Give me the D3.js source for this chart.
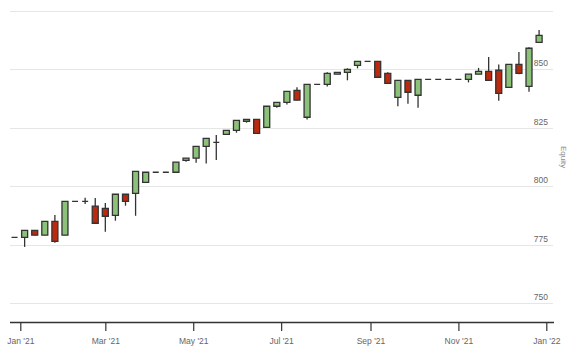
<!DOCTYPE html>
<html>
<head>
<meta charset="utf-8">
<script src="https://cdn.jsdelivr.net/npm/d3@7"></script>
<style>
  body { margin: 0; background: #fff; }
  svg { display: block; font-family: "Liberation Sans", Arial, sans-serif; }
</style>
</head>
<body>
<svg id="chart" width="580" height="360"></svg>
<script>
// weekly candles, week starting Monday
let weeks = ["2020-12-28","2021-01-04","2021-01-11","2021-01-18","2021-01-25","2021-02-01","2021-02-08","2021-02-15","2021-02-22",
  "2021-03-01","2021-03-08","2021-03-15","2021-03-22","2021-03-29","2021-04-05","2021-04-12","2021-04-19","2021-04-26",
  "2021-05-03","2021-05-10","2021-05-17","2021-05-24","2021-05-31","2021-06-07","2021-06-14","2021-06-21","2021-06-28",
  "2021-07-05","2021-07-12","2021-07-19","2021-07-26","2021-08-02","2021-08-09","2021-08-16","2021-08-23","2021-08-30",
  "2021-09-06","2021-09-13","2021-09-20","2021-09-27","2021-10-04","2021-10-11","2021-10-18","2021-10-25","2021-11-01",
  "2021-11-08","2021-11-15","2021-11-22","2021-11-29","2021-12-06","2021-12-13","2021-12-20","2021-12-27"];
let open  = [778.2,778.2,781.2,779.1,785.0,779.1,793.6,793.6,791.5,790.6,787.6,796.6,797.0,801.7,806.0,806.0,806.0,811.1,
  812.0,817.1,818.8,822.2,823.9,827.8,828.6,825.2,834.2,835.9,841.0,829.5,843.6,843.6,847.9,848.7,851.7,853.4,
  853.4,848.3,838.0,845.3,838.9,845.7,845.7,845.7,845.7,845.7,847.9,849.1,849.6,842.3,852.1,842.7,861.5];
let high  = [778.2,781.2,781.2,785.0,787.7,793.6,793.6,795.1,795.0,792.9,796.6,796.6,806.4,806.0,806.0,806.0,810.3,812.0,
  817.1,820.5,821.9,823.9,828.2,828.6,828.6,834.2,835.9,840.6,842.3,843.6,843.6,848.7,848.7,850.4,853.4,853.4,
  853.4,848.7,845.3,845.3,845.7,845.7,845.7,845.7,845.7,847.9,850.6,855.3,852.1,852.1,857.4,859.4,866.8];
let low   = [778.2,774.1,779.1,779.1,775.9,779.1,793.6,792.4,784.2,780.6,785.3,791.7,787.4,801.7,806.0,806.0,806.0,810.5,
  810.1,809.7,811.2,822.2,822.9,827.2,822.6,825.2,833.6,835.0,836.8,828.6,843.6,842.7,847.9,845.3,850.4,853.4,
  846.6,844.0,834.2,835.3,833.6,845.7,845.7,845.7,845.7,844.4,847.9,845.3,836.6,842.3,847.9,840.4,861.5];
let close = [778.2,781.2,779.1,785.0,776.5,793.6,793.6,793.6,784.2,787.2,796.6,793.6,806.4,806.0,806.0,806.0,810.3,812.0,
  817.1,820.5,818.8,823.9,828.2,828.6,822.6,834.2,835.9,840.6,836.8,843.6,843.6,848.3,848.7,850.0,853.4,853.4,
  846.6,844.0,845.3,840.2,845.7,845.7,845.7,845.7,845.7,847.9,849.1,845.3,839.7,852.1,848.3,859.0,864.5];

let yTicks = [750, 775, 800, 825, 850, 875];
let xTicks = ["2021-01-01","2021-03-01","2021-05-01","2021-07-01","2021-09-01","2021-11-01","2022-01-01"];
let xTickLabels = ["Jan '21","Mar '21","May '21","Jul '21","Sep '21","Nov '21","Jan '22"];

let parse = d3.timeParse("%Y-%m-%d");
let data = weeks.map((w, i) => ({date: parse(w), o: open[i], h: high[i], l: low[i], c: close[i]}));

let svg = d3.select("#chart");
let left = 10, right = 553, axisY = 322;

let x = d3.scaleTime()
  .domain([parse("2021-01-01"), parse("2022-01-01")])
  .range([20.3, 546.3]);

let y = d3.scaleLinear()
  .domain([750, 850])
  .range([303.3, 69.3]);

// gridlines
svg.append("g")
  .selectAll("line")
  .data(yTicks)
  .enter().append("line")
  .attr("x1", left).attr("x2", right)
  .attr("y1", d => Math.round(y(d)) + 0.5).attr("y2", d => Math.round(y(d)) + 0.5)
  .attr("stroke", "#e6e6e6").attr("stroke-width", 1);

// y labels, inside the plot on the right, above the gridline
svg.append("g")
  .selectAll("text")
  .data(yTicks.filter(d => d < 875))
  .enter().append("text")
  .attr("x", 548)
  .attr("y", d => y(d) - 3)
  .attr("text-anchor", "end")
  .attr("font-size", 8.5)
  .attr("fill", "#666")
  .text(d => d);

svg.append("text")
  .attr("transform", "translate(561,157) rotate(90)")
  .attr("text-anchor", "middle")
  .attr("font-size", 8)
  .attr("fill", "#888")
  .text("Equity");

// x axis
let xAxis = d3.axisBottom(x)
  .tickValues(xTicks.map(parse))
  .tickFormat((d, i) => xTickLabels[i])
  .tickSize(9)
  .tickPadding(7)
  .tickSizeOuter(0);

let ax = svg.append("g")
  .attr("transform", "translate(0," + axisY + ")")
  .call(xAxis);
ax.select(".domain").attr("d", "M" + left + ",0.5H" + (right + 1)).attr("stroke", "#333").attr("stroke-width", 1.5);
ax.selectAll(".tick line").attr("stroke", "#333").attr("stroke-width", 1.2);
ax.selectAll(".tick text")
  .attr("font-size", 8.5)
  .attr("fill", "#666")
  .attr("font-family", "'Liberation Sans', Arial, sans-serif");

// candles
let bw = 6;
let candles = svg.append("g")
  .selectAll("g")
  .data(data)
  .enter().append("g")
  .attr("transform", d => "translate(" + x(d.date) + ",0)");

candles.filter(d => d.h > d.l)
  .append("line")
  .attr("x1", 0).attr("x2", 0)
  .attr("y1", d => y(d.h)).attr("y2", d => y(d.l))
  .attr("stroke", "#333").attr("stroke-width", 1.3);

// body as a path so flat weeks still show as a dash
candles.append("path")
  .attr("d", d => {
    let y0 = y(Math.max(d.o, d.c)), y1 = y(Math.min(d.o, d.c));
    return "M" + (-bw / 2) + "," + y0 + "H" + (bw / 2) + "V" + y1 + "H" + (-bw / 2) + "Z";
  })
  .attr("fill", d => d.c >= d.o ? "#8cc17a" : "#bb2a0e")
  .attr("stroke", "#333")
  .attr("stroke-width", 1.3);
</script>
</body>
</html>
